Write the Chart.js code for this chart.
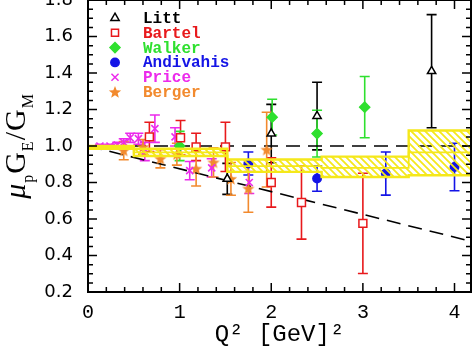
<!DOCTYPE html>
<html>
<head>
<meta charset="utf-8">
<script src="https://cdn.jsdelivr.net/npm/chart.js@4/dist/chart.umd.min.js"></script>
<style>
html, body { margin: 0; padding: 0; background: #fff; }
</style>
</head>
<body>
<canvas id="myChart" width="474" height="349"></canvas>
<script>
// Q^2 [GeV^2], ratio, symmetric error
var littQ2 = [1.52, 2.0, 2.5, 3.75];
var littRatio = [0.82, 1.068, 1.164, 1.41];
var littErr = [0.085, 0.16, 0.185, 0.31];

var bartelQ2 = [0.67, 1.01, 1.18, 1.5, 2.0, 2.33, 3.0];
var bartelRatio = [1.05, 1.045, 0.995, 0.995, 0.80, 0.69, 0.576];
var bartelErr = [0.08, 0.095, 0.075, 0.135, 0.135, 0.20, 0.275];

var walkerQ2 = [1.0, 2.01, 2.5, 3.02];
var walkerRatio = [1.0, 1.158, 1.068, 1.213];
var walkerErr = [0.08, 0.098, 0.128, 0.168];

var andivahisQ2 = [1.75, 2.5, 3.25, 4.0];
var andivahisRatio = [0.904, 0.822, 0.849, 0.885];
var andivahisErr = [0.063, 0.07, 0.118, 0.13];

var priceQ2 = [0.13, 0.24, 0.32, 0.39, 0.46, 0.55, 0.62, 0.73, 0.95, 1.11, 1.35, 1.76];
var priceRatio = [1.0, 1.0, 1.005, 1.02, 1.045, 1.04, 0.97, 1.095, 1.05, 0.865, 0.88, 0.80];
var priceErr = [0.01, 0.01, 0.015, 0.02, 0.025, 0.03, 0.05, 0.075, 0.05, 0.05, 0.05, 0.06];

var bergerQ2 = [0.39, 0.60, 0.79, 0.97, 1.18, 1.37, 1.56, 1.75, 1.95];
var bergerRatio = [0.975, 0.995, 0.93, 0.955, 0.876, 0.91, 0.82, 0.767, 0.98];
var bergerErr = [0.05, 0.04, 0.05, 0.06, 0.095, 0.08, 0.09, 0.13, 0.205];

// yellow band (steps)
var bandEdges = [0, 0.5, 1.52, 2.55, 3.5, 4.18];
var bandLow = [0.985, 0.945, 0.858, 0.83, 0.84];
var bandHigh = [1.0, 0.985, 0.926, 0.942, 1.085];
var bandMid = [0.993, 0.965, 0.89, 0.88, 0.965];

// dashed reference lines
var flatX = [0, 4.18], flatY = [1.0, 1.0];
var fallX = [0, 4.18], fallY = [1.0, 0.478];

var xTicks = [0, 1, 2, 3, 4];
var yTicks = [0.2, 0.4, 0.6, 0.8, 1.0, 1.2, 1.4, 1.6, 1.8];

var X_MIN = 0, X_MAX = 4.18, Y_MIN = 0.2, Y_MAX = 1.8;
var YELLOW = "#f5e81a";

function pts(xs, ys) {
	var out = [];
	for (var i = 0; i < xs.length; i++) out.push({x: xs[i], y: ys[i]});
	return out;
}

function stepPts(vals) {
	var out = [];
	for (var i = 0; i < bandEdges.length; i++) {
		out.push({x: bandEdges[i], y: vals[Math.min(i, vals.length - 1)]});
	}
	return out;
}

function makeHatch() {
	var c = document.createElement("canvas");
	c.width = 7; c.height = 7;
	var g = c.getContext("2d");
	g.strokeStyle = YELLOW;
	g.lineWidth = 1.8;
	g.beginPath();
	g.moveTo(-1, -1); g.lineTo(8, 8);
	g.moveTo(-1, 6); g.lineTo(1, 8);
	g.moveTo(6, -1); g.lineTo(8, 1);
	g.stroke();
	return g.createPattern(c, "repeat");
}

function makeStar(color) {
	var c = document.createElement("canvas");
	c.width = 14; c.height = 14;
	var g = c.getContext("2d");
	g.fillStyle = color;
	g.beginPath();
	for (var i = 0; i < 10; i++) {
		var r = i % 2 == 0 ? 6.5 : 2.8;
		var a = -Math.PI / 2 + i * Math.PI / 5;
		var px = 7 + r * Math.cos(a), py = 7.5 + r * Math.sin(a);
		if (i == 0) g.moveTo(px, py); else g.lineTo(px, py);
	}
	g.closePath();
	g.fill();
	return c;
}

var starImg = makeStar("#f28a2e");

var series = [
	{label: "Litt", xs: littQ2, ys: littRatio, err: littErr, color: "#000000", style: "triangle", radius: 4.8, fill: "#ffffff"},
	{label: "Bartel", xs: bartelQ2, ys: bartelRatio, err: bartelErr, color: "#e8191c", style: "rect", radius: 5.6, fill: "#ffffff"},
	{label: "Walker", xs: walkerQ2, ys: walkerRatio, err: walkerErr, color: "#2fe02f", style: "rectRot", radius: 5, fill: "#2fe02f"},
	{label: "Andivahis", xs: andivahisQ2, ys: andivahisRatio, err: andivahisErr, color: "#1414e6", style: "circle", radius: 4.2, fill: "#1414e6"},
	{label: "Price", xs: priceQ2, ys: priceRatio, err: priceErr, color: "#ec2aec", style: "crossRot", radius: 5, fill: "#ec2aec"},
	{label: "Berger", xs: bergerQ2, ys: bergerRatio, err: bergerErr, color: "#f28a2e", style: starImg, radius: 6, fill: "#f28a2e"}
];

var datasets = [];

// band: low edge, high edge (hatch filled down to low edge), middle line
datasets.push({type: "line", data: stepPts(bandLow), stepped: "before", borderColor: YELLOW, borderWidth: 2.4, pointRadius: 0, fill: false, order: 0});
datasets.push({type: "line", data: stepPts(bandHigh), stepped: "before", borderColor: YELLOW, borderWidth: 2.4, pointRadius: 0, fill: "-1", backgroundColor: makeHatch(), order: 0});
datasets.push({type: "line", data: stepPts(bandMid), stepped: "before", borderColor: YELLOW, borderWidth: 1.8, pointRadius: 0, fill: false, order: 0});

datasets.push({type: "line", data: pts(flatX, flatY), borderColor: "#000", borderWidth: 1.6, borderDash: [14, 8], pointRadius: 0, fill: false, order: 3});
datasets.push({type: "line", data: pts(fallX, fallY), borderColor: "#000", borderWidth: 1.6, borderDash: [14, 8], pointRadius: 0, fill: false, order: 3});

for (var i = 0; i < series.length; i++) {
	var s = series[i];
	datasets.push({
		type: "scatter",
		label: s.label,
		data: pts(s.xs, s.ys),
		err: s.err,
		errColor: s.color,
		pointStyle: s.style,
		pointRadius: s.radius,
		borderColor: s.color,
		backgroundColor: s.fill,
		borderWidth: s.style == "crossRot" ? 1.6 : 1.5,
		order: 1
	});
}

var errorBars = {
	id: "errorBars",
	beforeDatasetsDraw: function(chart) {
		var ctx = chart.ctx, xs = chart.scales.x, ys = chart.scales.y;
		chart.data.datasets.forEach(function(ds) {
			if (!ds.err) return;
			ctx.save();
			ctx.strokeStyle = ds.errColor;
			ctx.lineWidth = 1.6;
			ds.data.forEach(function(p, j) {
				var px = xs.getPixelForValue(p.x);
				var top = ys.getPixelForValue(p.y + ds.err[j]);
				var bot = ys.getPixelForValue(p.y - ds.err[j]);
				ctx.beginPath();
				ctx.moveTo(px, top); ctx.lineTo(px, bot);
				ctx.moveTo(px - 5, top); ctx.lineTo(px + 5, top);
				ctx.moveTo(px - 5, bot); ctx.lineTo(px + 5, bot);
				ctx.stroke();
			});
			ctx.restore();
		});
	}
};

var frame = {
	id: "frame",
	afterDraw: function(chart) {
		var ctx = chart.ctx, a = chart.chartArea, xs = chart.scales.x, ys = chart.scales.y;
		ctx.save();
		ctx.strokeStyle = "#000";
		ctx.lineWidth = 2;
		ctx.strokeRect(a.left, a.top, a.right - a.left, a.bottom - a.top);
		ctx.lineWidth = 1.5;
		ctx.beginPath();
		var v, px, len;
		for (v = X_MIN; v <= X_MAX + 1e-9; v += 0.2) {
			px = xs.getPixelForValue(v);
			len = Math.abs(v - Math.round(v)) < 1e-6 ? 9 : 5;
			ctx.moveTo(px, a.bottom); ctx.lineTo(px, a.bottom - len);
			ctx.moveTo(px, a.top); ctx.lineTo(px, a.top + len);
		}
		for (v = Y_MIN; v <= Y_MAX + 1e-9; v += 0.05) {
			px = ys.getPixelForValue(v);
			len = Math.abs(v * 5 - Math.round(v * 5)) < 1e-6 ? 9 : 5;
			ctx.moveTo(a.left, px); ctx.lineTo(a.left + len, px);
			ctx.moveTo(a.right, px); ctx.lineTo(a.right - len, px);
		}
		ctx.stroke();

		// legend
		var lx = 115, tx = 143, ly = 18, step = 14.8;
		ctx.textBaseline = "middle";
		ctx.font = "bold 16px 'Liberation Mono'";
		series.forEach(function(s, k) {
			var y = ly + k * step;
			ctx.strokeStyle = s.color;
			ctx.fillStyle = s.fill;
			ctx.lineWidth = 1.5;
			Chart.helpers.drawPoint(ctx, {
				pointStyle: s.style, radius: s.style == "rect" ? 5 : s.radius, rotation: 0,
				borderWidth: 1.5
			}, lx, y);
			ctx.fillStyle = s.color;
			ctx.fillText(s.label, tx, y + 1);
		});

		// y title: mu_p G_E / G_M
		ctx.save();
		ctx.translate(25, 146);
		ctx.rotate(-Math.PI / 2);
		ctx.fillStyle = "#000";
		ctx.textBaseline = "alphabetic";
		var parts = [
			["italic 30px 'Liberation Serif'", "\u03bc", 0],
			["16px 'Liberation Serif'", "p", 8],
			["30px 'Liberation Serif'", "G", 0],
			["16px 'Liberation Serif'", "E", 8],
			["30px 'Liberation Serif'", "/", 0],
			["30px 'Liberation Serif'", "G", 0],
			["16px 'Liberation Serif'", "M", 8]
		];
		var w = 0;
		parts.forEach(function(p) { ctx.font = p[0]; w += ctx.measureText(p[1]).width + 1; });
		var cx = -w / 2;
		parts.forEach(function(p) {
			ctx.font = p[0];
			ctx.fillText(p[1], cx, p[2]);
			cx += ctx.measureText(p[1]).width + 1;
		});
		ctx.restore();
		ctx.restore();
	}
};

var ctx = document.getElementById("myChart");
var myChart = new Chart(ctx, {
	type: "scatter",
	data: {datasets: datasets},
	options: {
		responsive: false,
		animation: false,
		devicePixelRatio: 1,
		layout: {autoPadding: false, padding: {left: 0, right: 3, top: 0, bottom: 0}},
		plugins: {legend: {display: false}, tooltip: {enabled: false}},
		scales: {
			x: {
				type: "linear", min: X_MIN, max: X_MAX,
				grid: {display: false, drawTicks: false},
				border: {display: false},
				afterBuildTicks: function(scale) { scale.ticks = xTicks.map(function(v) { return {value: v}; }); },
				afterFit: function(scale) { scale.height = 57; scale.paddingLeft = 0; scale.paddingRight = 0; },
				ticks: {color: "#000", padding: 9, maxRotation: 0, font: {family: "'Liberation Mono'", size: 20},
					callback: function(v) { return String(v); }},
				title: {display: true, text: "Q\u00b2 [GeV]\u00b2", color: "#000", padding: {top: 0, bottom: 0},
					font: {family: "'Liberation Mono'", size: 24}}
			},
			y: {
				type: "linear", min: Y_MIN, max: Y_MAX,
				grid: {display: false, drawTicks: false},
				border: {display: false},
				afterBuildTicks: function(scale) { scale.ticks = yTicks.map(function(v) { return {value: v}; }); },
				afterFit: function(scale) { scale.width = 88; scale.paddingTop = 0; scale.paddingBottom = 0; },
				ticks: {color: "#000", padding: 15, font: {family: "'DejaVu Sans'", size: 18},
					callback: function(v) { return v.toFixed(1); }}
			}
		}
	},
	plugins: [errorBars, frame]
});
</script>
</body>
</html>
